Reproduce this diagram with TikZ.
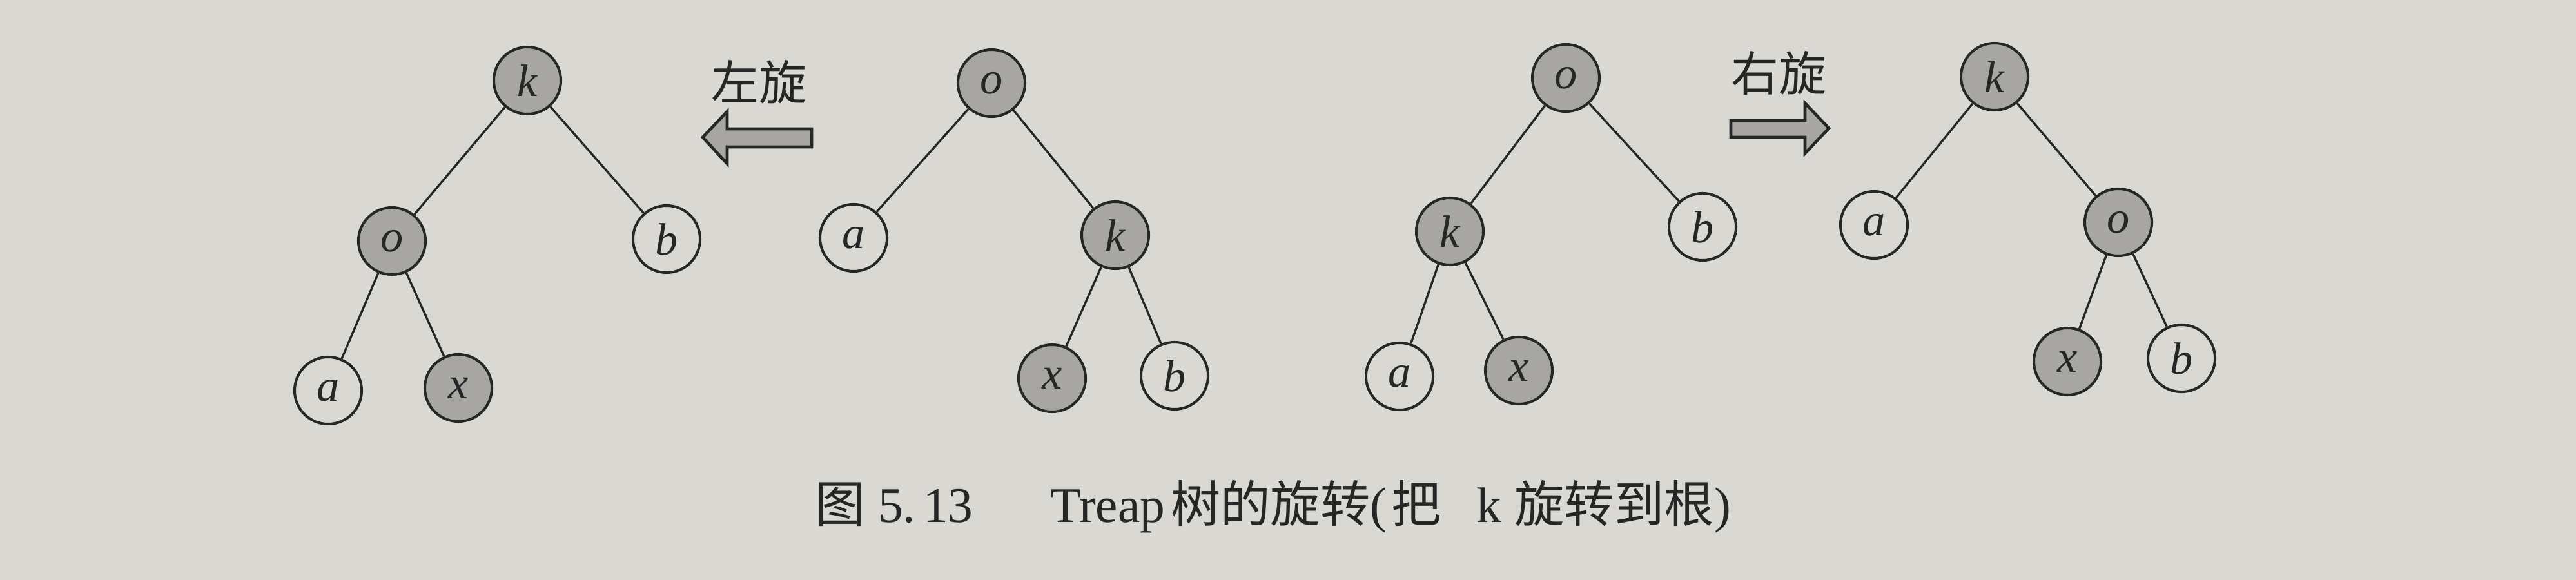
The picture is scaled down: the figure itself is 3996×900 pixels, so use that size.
\documentclass[tikz,border=0pt]{standalone}
\usepackage{fontspec}
\setmainfont{Liberation Serif}
\newfontfamily\cjk{Noto Sans CJK SC}
\definecolor{paper}{RGB}{218,216,210}
\definecolor{shade}{RGB}{168,166,162}
\definecolor{ink}{RGB}{38,38,38}
\tikzset{
  tnode/.style={circle,draw=ink,line width=1.15pt,minimum size=1.04cm,inner sep=0pt,
    font=\fontsize{20pt}{24pt}\selectfont\itshape,text=ink},
  dark/.style={tnode,fill=shade},
  light/.style={tnode,fill=paper},
  edge/.style={draw=ink,line width=0.95pt},
  bigarrow/.style={draw=ink,line width=1.3pt,fill=shade,line join=miter},
  lbl/.style={font=\fontsize{21pt}{25pt}\selectfont\cjk,text=ink,inner sep=0pt}
}
\begin{document}
\begin{tikzpicture}[x=0.01cm,y=-0.01cm]
\fill[paper] (0,0) rectangle (3996,900);
\useasboundingbox (0,0) rectangle (3996,900);
% Tree A
\node[dark]  (kA) at (818,125) {k};
\node[dark]  (oA) at (608,374) {o};
\node[light] (bA) at (1034,371) {b};
\node[light] (aA) at (509,606) {a};
\node[dark]  (xA) at (711,602) {x};
\draw[edge] (kA) -- (oA);
\draw[edge] (kA) -- (bA);
\draw[edge] (oA) -- (aA);
\draw[edge] (oA) -- (xA);
% left arrow
\node[lbl] (tL) at (1177,127) {左旋};
\draw[bigarrow] (1090,213) -- (1128,173) -- (1128,200) -- (1259,200) -- (1259,228) -- (1128,228) -- (1128,254) -- cycle;
% Tree B
\node[dark]  (oB) at (1538,129) {o};
\node[light] (aB) at (1324,369) {a};
\node[dark]  (kB) at (1730,365) {k};
\node[dark]  (xB) at (1632,587) {x};
\node[light] (bB) at (1822,583) {b};
\draw[edge] (oB) -- (aB);
\draw[edge] (oB) -- (kB);
\draw[edge] (kB) -- (xB);
\draw[edge] (kB) -- (bB);
% Tree C
\node[dark]  (oC) at (2429,121) {o};
\node[dark]  (kC) at (2249,359) {k};
\node[light] (bC) at (2641,352) {b};
\node[light] (aC) at (2171,584) {a};
\node[dark]  (xC) at (2356,575) {x};
\draw[edge] (oC) -- (kC);
\draw[edge] (oC) -- (bC);
\draw[edge] (kC) -- (aC);
\draw[edge] (kC) -- (xC);
% right arrow
\node[lbl] (tR) at (2759,113) {右旋};
\draw[bigarrow] (2837,199) -- (2800,160) -- (2800,187) -- (2685,187) -- (2685,213) -- (2800,213) -- (2800,238) -- cycle;
% Tree D
\node[dark]  (kD) at (3094,119) {k};
\node[light] (aD) at (2907,349) {a};
\node[dark]  (oD) at (3286,345) {o};
\node[dark]  (xD) at (3207,561) {x};
\node[light] (bD) at (3384,556) {b};
\draw[edge] (kD) -- (aD);
\draw[edge] (kD) -- (oD);
\draw[edge] (oD) -- (xD);
\draw[edge] (oD) -- (bD);
% caption
\node[anchor=base west,inner sep=0pt,text=ink,font=\fontsize{22pt}{26pt}\selectfont] (cap) at (1264,810)
  {{\cjk 图}\hspace{0.2cm}5.\hspace{0.12cm}13\hspace{1.2cm}Treap\hspace{0.09cm}{\cjk 树的旋转}(\hspace{0.07cm}{\cjk 把}\hspace{0.55cm}k\hspace{0.2cm}{\cjk 旋转到根})};
\end{tikzpicture}
\end{document}
